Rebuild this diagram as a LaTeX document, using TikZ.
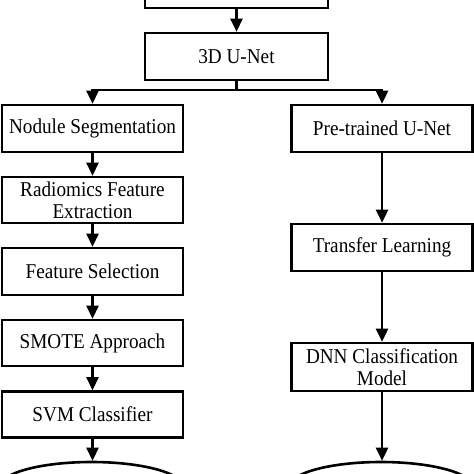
\documentclass[tikz,border=0pt]{standalone}
\usepackage{fontspec}
\setmainfont{Liberation Serif}[FakeStretch=0.91]
\usetikzlibrary{arrows.meta,shapes.geometric}
\begin{document}
\begin{tikzpicture}[x=1pt,y=-1pt,
  box/.style={draw,line width=2.6pt,minimum width=181pt,minimum height=47pt,inner sep=0pt,align=center,font=\fontsize{21.1}{21.7}\selectfont},
  oval/.style={draw,line width=2.6pt,ellipse,minimum width=184pt,minimum height=50pt,inner sep=0pt},
  conn/.style={line width=2.6pt,-{Triangle[width=12pt,length=13pt]}},
  plain/.style={line width=2.6pt}]
\useasboundingbox (0,0) rectangle (474,474);
\clip (0,0) rectangle (474,474);
\node[box,minimum width=183pt] (top) at (236.5,-15.5) {};
\node[box,minimum width=183pt] (unet) at (236.5,56.5) {3D U-Net};
\node[box] (seg) at (92.5,128.5) {Nodule Segmentation};
\node[box] (pre) at (382,128.5) {Pre-trained U-Net};
\node[box,minimum height=46pt] (rad) at (92.5,200) {Radiomics Feature\\Extraction};
\node[box] (fs) at (92.5,271.5) {Feature Selection};
\node[box,minimum height=46pt] (smote) at (92.5,343) {SMOTE Approach};
\node[box,minimum height=46pt] (svm) at (92.5,414.5) {SVM Classifier};
\node[box] (tl) at (382,247.5) {Transfer Learning};
\node[box,minimum height=48pt] (dnn) at (382,367) {DNN Classification\\Model};
\node[oval] (e1) at (91.5,487) {};
\node[oval] (e2) at (381,487) {};
\coordinate (split) at (236.5,90);
\draw[conn] (top) -- (unet);
\draw[plain] (unet) -- (split);
\draw[conn] (split) -| (seg.north);
\draw[conn] (split) -| (pre.north);
\draw[conn] (seg) -- (rad);
\draw[conn] (rad) -- (fs);
\draw[conn] (fs) -- (smote);
\draw[conn] (smote) -- (svm);
\draw[conn] (svm.south) -- (svm.south |- e1.north);
\draw[conn] (pre) -- (tl);
\draw[conn] (tl) -- (dnn);
\draw[conn] (dnn.south) -- (dnn.south |- e2.north);
\end{tikzpicture}
\end{document}
